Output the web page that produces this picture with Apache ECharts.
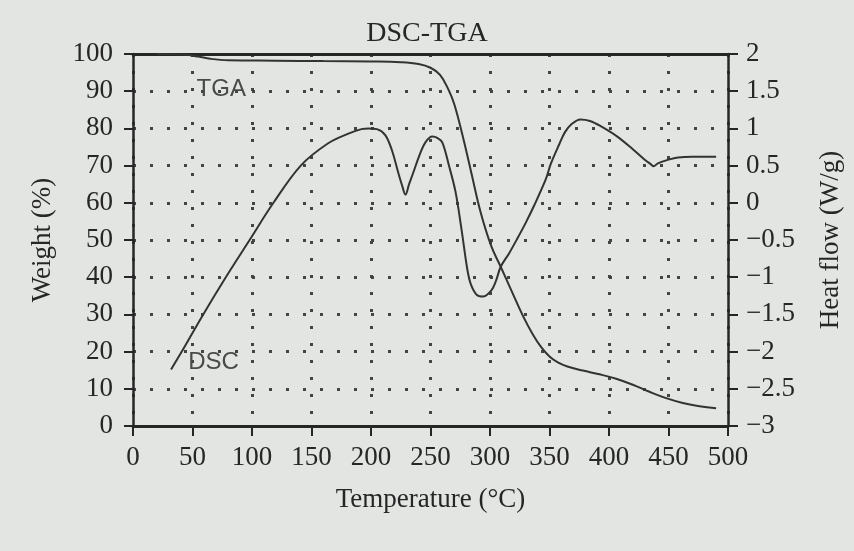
<!DOCTYPE html>
<html>
<head>
<meta charset="utf-8">
<title>DSC-TGA</title>
<script src="https://cdn.jsdelivr.net/npm/echarts@6/dist/echarts.min.js"></script>
</head>
<body style="margin:0;background:#e2e5e1;">
<div id="main" style="width:854px;height:551px;"></div>
<script type="text/javascript">
// TGA: temperature (°C) -> weight (%)
var tgaTemp = [20, 45, 55, 65, 80, 120, 160, 200, 225, 240,
  250, 258, 265, 270, 277, 284, 292, 301, 309, 318,
  328, 336, 343, 350, 357, 365, 378, 392, 406, 420,
  434, 448, 462, 476, 490];
var tgaWeight = [100, 99.8, 99.3, 98.7, 98.3, 98.2, 98.1, 98.0, 97.8, 97.3,
  96.3, 94.4, 90.5, 86.5, 78, 68.5, 57.6, 48.4, 42.8, 36.4,
  29.4, 24.6, 21.2, 18.7, 17.1, 16.0, 14.9, 13.9, 12.7, 11.1,
  9.2, 7.5, 6.2, 5.3, 4.8];

// DSC: temperature (°C) -> heat flow (W/g)
var dscTemp = [32, 41, 59, 78, 98, 118, 141, 164, 181, 192,
  198, 205, 212, 217.5, 223, 226, 229, 232, 234.5, 241.5,
  246, 251.5, 256, 260, 265.5, 271, 276, 281, 284, 289,
  294, 301, 305, 309, 316, 323, 330, 337, 347, 351,
  358, 363, 368, 376, 384, 393, 407, 420, 430, 435,
  437.5, 441, 450, 458, 470, 490];
var dscHeat = [-2.24, -2.0, -1.5, -1.0, -0.5, 0, 0.5, 0.8, 0.93, 0.99,
  1.0, 0.99, 0.91, 0.71, 0.40, 0.24, 0.11, 0.25, 0.36, 0.67,
  0.82, 0.89, 0.87, 0.81, 0.5, 0.15, -0.35, -0.9, -1.1, -1.24,
  -1.26, -1.18, -1.05, -0.86, -0.68, -0.48, -0.27, -0.04, 0.32, 0.52,
  0.78, 0.95, 1.05, 1.12, 1.1, 1.03, 0.89, 0.72, 0.58, 0.52,
  0.49, 0.53, 0.58, 0.61, 0.62, 0.62];

var serif = 'Liberation Serif';
var ink = '#262626';

function pairs(xs, ys) {
  return xs.map(function (x, i) { return [x, ys[i]]; });
}

var myChart = echarts.init(document.getElementById('main'));
myChart.setOption({
  backgroundColor: '#e2e5e1',
  animation: false,
  title: {
    text: 'DSC-TGA',
    left: 'center',
    top: 15,
    textStyle: { fontFamily: serif, fontSize: 28, fontWeight: 'normal', color: ink }
  },
  grid: { left: 133, right: 126, top: 54, bottom: 125 },
  xAxis: [{
    type: 'value',
    min: 0, max: 500, interval: 50,
    position: 'bottom',
    name: 'Temperature (°C)',
    nameLocation: 'middle',
    nameGap: 60,
    nameTextStyle: { fontFamily: serif, fontSize: 27, color: ink },
    axisLine: { show: true, onZero: false, lineStyle: { color: ink, width: 3 } },
    axisTick: { show: true, length: 10, lineStyle: { color: ink, width: 2 } },
    axisLabel: { margin: 18, fontFamily: serif, fontSize: 27, color: ink },
    splitLine: { show: true, lineStyle: { type: [3, 14], width: 3, color: '#444' } }
  }, {
    type: 'value',
    min: 0, max: 500,
    position: 'top',
    axisLine: { show: true, onZero: false, lineStyle: { color: ink, width: 3 } },
    axisTick: { show: false },
    axisLabel: { show: false },
    splitLine: { show: false }
  }],
  yAxis: [{
    type: 'value',
    min: 0, max: 100, interval: 10,
    position: 'left',
    name: 'Weight (%)',
    nameLocation: 'middle',
    nameRotate: 90,
    nameGap: 77,
    nameTextStyle: { fontFamily: serif, fontSize: 27, color: ink },
    axisLine: { show: true, onZero: false, lineStyle: { color: ink, width: 2.5 } },
    axisTick: { show: true, length: 9, lineStyle: { color: ink, width: 2 } },
    axisLabel: { margin: 20, fontFamily: serif, fontSize: 27, color: ink },
    splitLine: { show: true, lineStyle: { type: [3, 14], width: 3, color: '#444' } }
  }, {
    type: 'value',
    min: -3, max: 2, interval: 0.5,
    position: 'right',
    name: 'Heat flow (W/g)',
    nameLocation: 'middle',
    nameRotate: 90,
    nameGap: 89,
    nameTextStyle: { fontFamily: serif, fontSize: 27, color: ink },
    axisLine: { show: true, onZero: false, lineStyle: { color: ink, width: 2.5 } },
    axisTick: { show: true, length: 10, lineStyle: { color: ink, width: 2 } },
    axisLabel: {
      margin: 18, fontFamily: serif, fontSize: 27, color: ink,
      formatter: function (v) { return v < 0 ? '\u2212' + Math.abs(v) : String(v); }
    },
    splitLine: { show: false }
  }],
  series: [{
    name: 'TGA',
    type: 'line',
    yAxisIndex: 0,
    data: pairs(tgaTemp, tgaWeight),
    smooth: 0.4,
    symbol: 'none',
    lineStyle: { color: '#333', width: 2 },
    markPoint: {
      symbol: 'circle', symbolSize: 1,
      itemStyle: { color: 'rgba(0,0,0,0)' },
      label: {
        show: true, position: 'right', distance: 0, formatter: 'TGA',
        fontFamily: 'Liberation Sans', fontSize: 24, color: '#4a4a4a'
      },
      data: [{ coord: [53, 90.5] }]
    }
  }, {
    name: 'DSC',
    type: 'line',
    yAxisIndex: 1,
    data: pairs(dscTemp, dscHeat),
    smooth: 0.35,
    symbol: 'none',
    lineStyle: { color: '#333', width: 2 },
    markPoint: {
      symbol: 'circle', symbolSize: 1,
      itemStyle: { color: 'rgba(0,0,0,0)' },
      label: {
        show: true, position: 'right', distance: 0, formatter: 'DSC',
        fontFamily: 'Liberation Sans', fontSize: 24, color: '#4a4a4a'
      },
      data: [{ coord: [46, -2.15] }]
    }
  }]
});
</script>
</body>
</html>
